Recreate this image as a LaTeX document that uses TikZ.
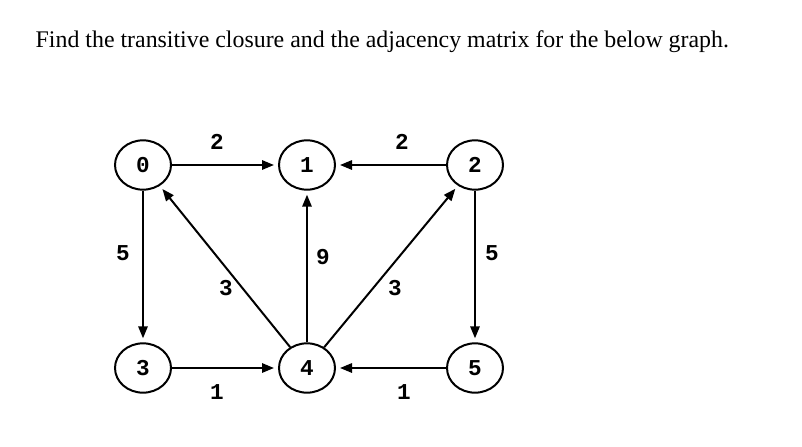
\documentclass[tikz,border=0pt]{standalone}
\usepackage{fontspec}
\setmainfont{Liberation Serif}
\newfontfamily\monof{Liberation Mono}
\usetikzlibrary{arrows.meta,shapes.geometric}
\begin{document}
\begin{tikzpicture}[x=0.75pt,y=-0.75pt,
  vtx/.style={draw,line width=1.5pt,ellipse,minimum width=42pt,minimum height=37pt,inner sep=0pt,font=\monof\bfseries\fontsize{17}{17}\selectfont},
  edge/.style={line width=1.5pt,-{Triangle[length=9pt,width=7pt]},shorten >=3pt},
  wl/.style={font=\monof\bfseries\fontsize{17}{17}\selectfont}]
\useasboundingbox (0,0) rectangle (802,446);
\node[anchor=west,font=\fontsize{17.9}{18}\selectfont] (t) at (31,42) {Find the transitive closure and the adjacency matrix for the below graph.};
\node[vtx] (n0) at (143,165) {0};
\node[vtx] (n1) at (307,165) {1};
\node[vtx] (n2) at (475,165) {2};
\node[vtx] (n3) at (143,368) {3};
\node[vtx] (n4) at (307,368) {4};
\node[vtx] (n5) at (475,368) {5};
\draw[edge] (n0) -- (n1);
\draw[edge] (n2) -- (n1);
\draw[edge] (n0) -- (n3);
\draw[edge] (n2) -- (n5);
\draw[edge] (n3) -- (n4);
\draw[edge] (n5) -- (n4);
\draw[edge] (n4) -- (n0);
\draw[edge] (n4) -- (n1);
\draw[edge] (n4) -- (n2);
\node[wl] (l01) at (217,142) {2};
\node[wl] (l21) at (402,142) {2};
\node[wl] (l03) at (123,253) {5};
\node[wl] (l25) at (492,253) {5};
\node[wl] (l41) at (323,257) {9};
\node[wl] (l40) at (226,288) {3};
\node[wl] (l42) at (395,288) {3};
\node[wl] (l34) at (217,392) {1};
\node[wl] (l54) at (404,392) {1};
\end{tikzpicture}
\end{document}
